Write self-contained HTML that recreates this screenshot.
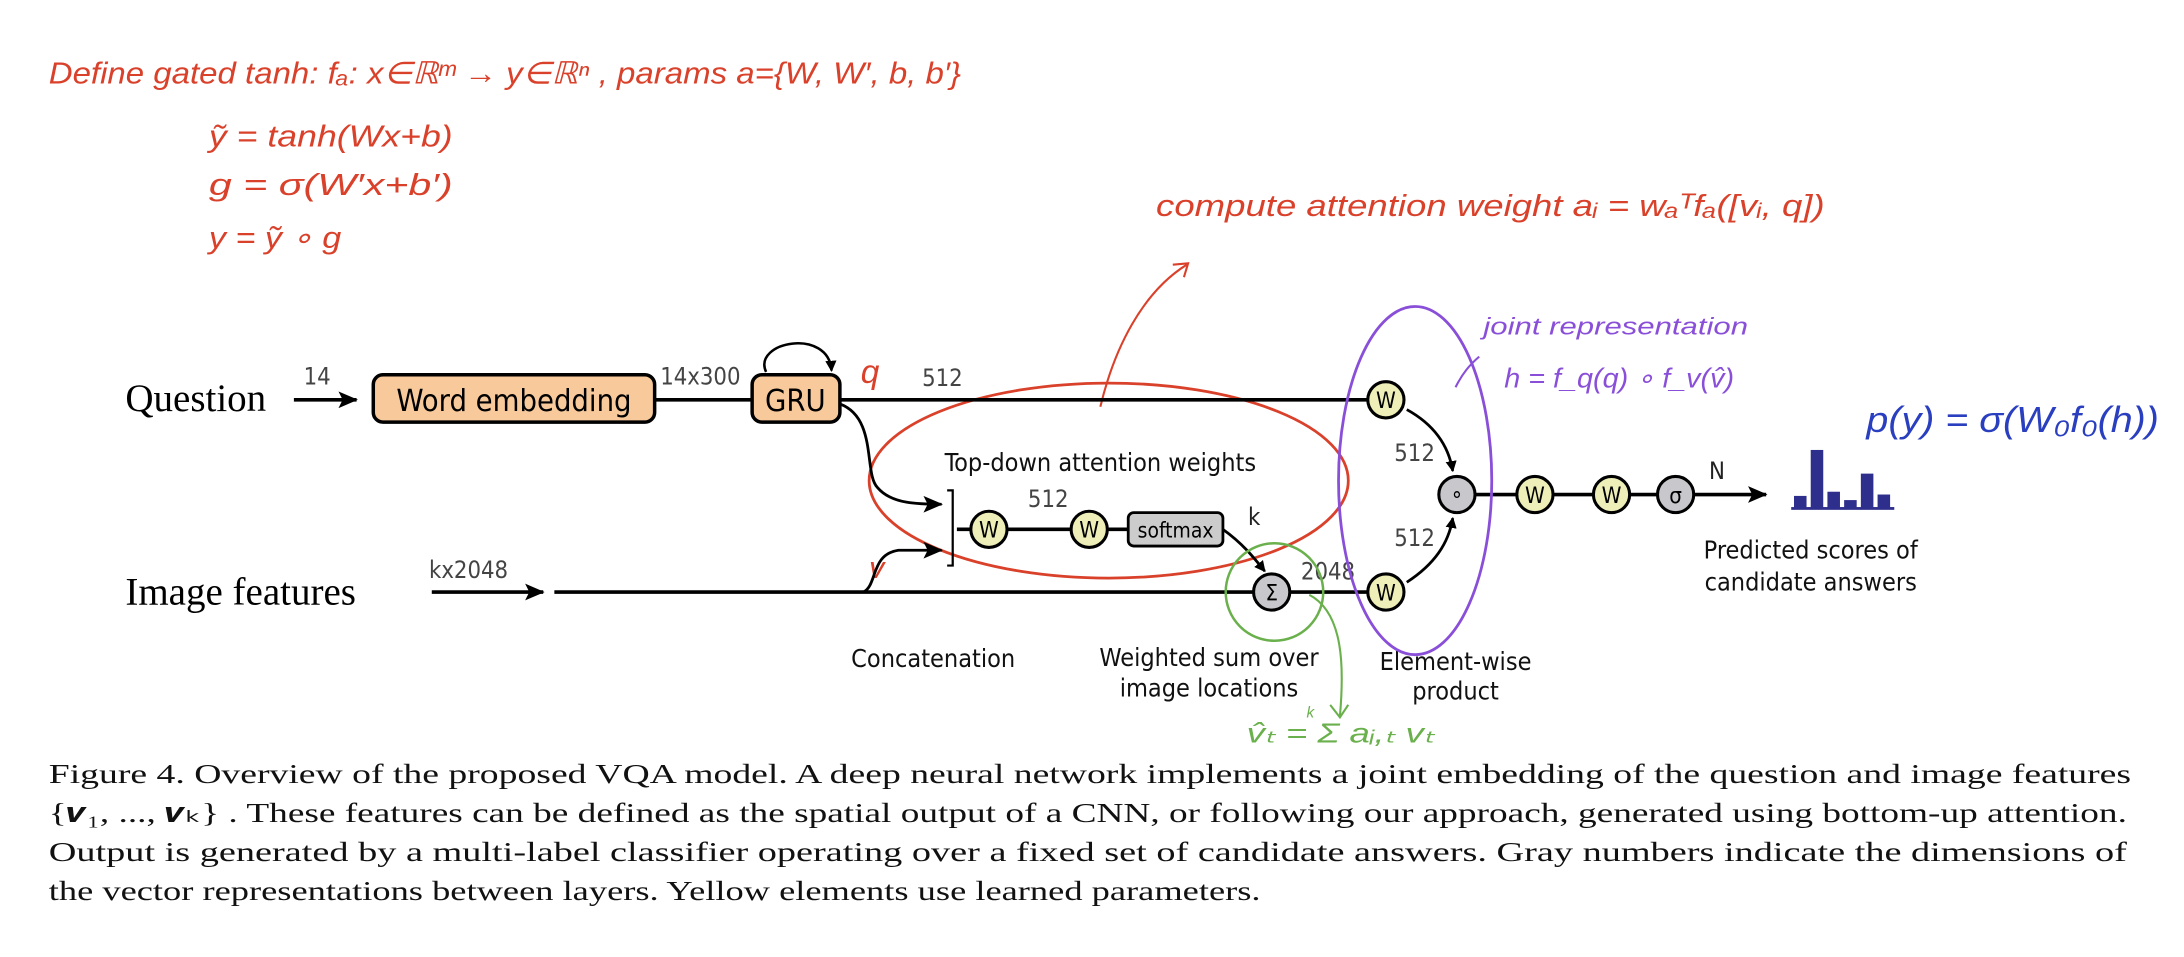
<!DOCTYPE html>
<html><head><meta charset="utf-8"><style>
html,body{margin:0;padding:0;background:#fff;}
svg{display:block;}
.s{font-family:"DejaVu Sans Condensed","Liberation Sans",sans-serif;}
.r{font-family:"Liberation Serif",serif;}
.h{font-family:"Liberation Sans",sans-serif;font-style:italic;}
</style></head><body>
<svg width="2184" height="957" viewBox="0 0 1568 687" xmlns="http://www.w3.org/2000/svg">
<defs>
<marker id="a" markerWidth="8" markerHeight="8" refX="7" refY="4" orient="auto" markerUnits="userSpaceOnUse"><path d="M0,0 L8,4 L0,8 Z" fill="#000"/></marker>
<marker id="ab" markerWidth="14" markerHeight="12" refX="13" refY="6" orient="auto" markerUnits="userSpaceOnUse"><path d="M0,0 L14,6 L0,12 L3,6 Z" fill="#000"/></marker>
</defs>
<g fill="#d9412b" class="h">
<text x="35" y="60" font-size="22" textLength="655" lengthAdjust="spacingAndGlyphs">Define gated tanh: fₐ: x∈ℝᵐ → y∈ℝⁿ , params a={W, W′, b, b′}</text>
<text x="150" y="105" font-size="22" textLength="175" lengthAdjust="spacingAndGlyphs">ỹ = tanh(Wx+b)</text>
<text x="150" y="140" font-size="22" textLength="175" lengthAdjust="spacingAndGlyphs">g = σ(W′x+b′)</text>
<text x="150" y="178" font-size="22" textLength="95" lengthAdjust="spacingAndGlyphs">y = ỹ ∘ g</text>
<text x="830" y="155" font-size="22" textLength="480" lengthAdjust="spacingAndGlyphs">compute attention weight  aᵢ = wₐᵀfₐ([vᵢ, q])</text>
<text x="618" y="275" font-size="24">q</text>
<text x="624" y="415" font-size="22">v</text>
</g>
<path d="M790,292 C800,250 820,210 852,190" stroke="#d9412b" stroke-width="1.5" fill="none"/>
<path d="M842,190 L853,189 L850,199" stroke="#d9412b" stroke-width="1.5" fill="none"/>
<ellipse cx="796" cy="345" rx="172" ry="70" fill="none" stroke="#d9412b" stroke-width="2"/>
<g stroke="#000" stroke-width="2.6" fill="none">
<line x1="211" y1="287" x2="256" y2="287" marker-end="url(#ab)"/>
<line x1="470" y1="287" x2="540" y2="287"/>
<line x1="603" y1="287" x2="983" y2="287"/>
<path d="M550,267 C540,245 595,235 597,266" stroke-width="1.8" marker-end="url(#a)"/>
<path d="M603,290 C630,300 620,340 630,350 C640,362 660,362 676,362" stroke-width="2" marker-end="url(#ab)"/>
<line x1="310" y1="425" x2="390" y2="425" marker-end="url(#ab)"/>
<line x1="398" y1="425" x2="983" y2="425"/>
<path d="M620,425 C630,420 625,398 645,395 L676,395" stroke-width="2" marker-end="url(#ab)"/>
<path d="M680,352 L684,352 L684,406 L680,406" stroke-width="1.6"/>
<line x1="687" y1="380" x2="810" y2="380"/>
<path d="M878,380 C892,390 900,400 908,410" stroke-width="2" marker-end="url(#a)"/>
<path d="M1010,294 C1030,305 1040,320 1043,338" stroke-width="2" marker-end="url(#a)"/>
<path d="M1010,418 C1030,405 1040,390 1043,372" stroke-width="2" marker-end="url(#a)"/>
<line x1="1058" y1="355" x2="1268" y2="355" marker-end="url(#ab)"/>
</g>
<rect x="268" y="269" width="202" height="34" rx="7" fill="#f7c99b" stroke="#000" stroke-width="2.5"/>
<text x="369" y="295" class="s" font-size="22" text-anchor="middle">Word embedding</text>
<rect x="540" y="269" width="63" height="34" rx="7" fill="#f7c99b" stroke="#000" stroke-width="2.5"/>
<text x="571" y="295" class="s" font-size="22" text-anchor="middle">GRU</text>
<rect x="810" y="368" width="68" height="24" rx="4" fill="#ccc" stroke="#000" stroke-width="2"/>
<text x="844" y="386" class="s" font-size="15" text-anchor="middle">softmax</text>
<g stroke="#000" stroke-width="2.2" class="s" font-size="16" text-anchor="middle">
<circle cx="710" cy="380" r="13" fill="#eeeeb8"/><text x="710" y="386" stroke="none">W</text>
<circle cx="782" cy="380" r="13" fill="#eeeeb8"/><text x="782" y="386" stroke="none">W</text>
<circle cx="913" cy="425" r="13" fill="#c8c8cc"/><text x="913" y="431" stroke="none">Σ</text>
<circle cx="995" cy="287" r="13" fill="#eeeeb8"/><text x="995" y="293" stroke="none">W</text>
<circle cx="995" cy="425" r="13" fill="#eeeeb8"/><text x="995" y="431" stroke="none">W</text>
<circle cx="1046" cy="355" r="13" fill="#c8c8cc"/><text x="1046" y="360" stroke="none">∘</text>
<circle cx="1102" cy="355" r="13" fill="#eeeeb8"/><text x="1102" y="361" stroke="none">W</text>
<circle cx="1157" cy="355" r="13" fill="#eeeeb8"/><text x="1157" y="361" stroke="none">W</text>
<circle cx="1203" cy="355" r="13" fill="#c8c8cc"/><text x="1203" y="361" stroke="none">σ</text>
</g>
<text x="90" y="295" class="r" font-size="28">Question</text>
<text x="90" y="434" class="r" font-size="28">Image features</text>
<g class="s" font-size="17" fill="#444">
<text x="218" y="276">14</text>
<text x="474" y="276">14x300</text>
<text x="662" y="277">512</text>
<text x="308" y="415">kx2048</text>
<text x="738" y="364">512</text>
<text x="896" y="377" fill="#222">k</text>
<text x="934" y="416">2048</text>
<text x="1001" y="331">512</text>
<text x="1001" y="392">512</text>
<text x="1227" y="344" fill="#222">N</text>
</g>
<g class="s" font-size="18" fill="#111" text-anchor="middle">
<text x="790" y="338">Top-down attention weights</text>
<text x="670" y="479">Concatenation</text>
<text x="868" y="478">Weighted sum over</text>
<text x="868" y="500">image locations</text>
<text x="1045" y="481">Element-wise</text>
<text x="1045" y="502">product</text>
<text x="1300" y="401">Predicted scores of</text>
<text x="1300" y="424">candidate answers</text>
</g>
<g fill="#2e2e8c">
<rect x="1288" y="356" width="9" height="9"/><rect x="1300" y="323" width="9" height="42"/><rect x="1312" y="353" width="9" height="12"/><rect x="1324" y="359" width="9" height="6"/><rect x="1336" y="340" width="9" height="25"/><rect x="1348" y="355" width="9" height="10"/>
<rect x="1286" y="364" width="74" height="2"/>
</g>
<circle cx="915" cy="425" r="35" fill="none" stroke="#6ab04c" stroke-width="1.8"/>
<path d="M940,427 C965,440 965,480 962,514" stroke="#6ab04c" stroke-width="1.5" fill="none"/>
<path d="M955,506 L962,515 L968,506" stroke="#6ab04c" stroke-width="1.5" fill="none"/>
<text x="895" y="533" class="h" font-size="20" fill="#6ab04c" textLength="135" lengthAdjust="spacingAndGlyphs">v̂ₜ = Σ aᵢ,ₜ vₜ</text>
<text x="938" y="515" class="h" font-size="11" fill="#6ab04c">k</text>
<ellipse cx="1016" cy="345" rx="55" ry="125" fill="none" stroke="#8a4fd8" stroke-width="2"/>
<path d="M1045,278 C1050,268 1055,262 1062,256" stroke="#8a4fd8" stroke-width="1.5" fill="none"/>
<text x="1065" y="240" class="h" font-size="17" fill="#8a4fd8" textLength="190" lengthAdjust="spacingAndGlyphs">joint representation</text>
<text x="1080" y="278" class="h" font-size="20" fill="#8a4fd8" textLength="165" lengthAdjust="spacingAndGlyphs">h = f_q(q) ∘ f_v(v̂)</text>
<text x="1340" y="310" class="h" font-size="26" fill="#2a3fc0" textLength="210" lengthAdjust="spacingAndGlyphs">p(y) = σ(W₀f₀(h))</text>
<g class="r" font-size="20" fill="#111">
<text x="35" y="562" textLength="1495" lengthAdjust="spacingAndGlyphs">Figure 4. Overview of the proposed VQA model. A deep neural network implements a joint embedding of the question and image features</text>
<text x="35" y="590" textLength="1492" lengthAdjust="spacingAndGlyphs">{𝒗₁, ..., 𝒗ₖ} . These features can be defined as the spatial output of a CNN, or following our approach, generated using bottom-up attention.</text>
<text x="35" y="618" textLength="1492" lengthAdjust="spacingAndGlyphs">Output is generated by a multi-label classifier operating over a fixed set of candidate answers. Gray numbers indicate the dimensions of</text>
<text x="35" y="646" textLength="870" lengthAdjust="spacingAndGlyphs">the vector representations between layers. Yellow elements use learned parameters.</text>
</g>
</svg>
</body></html>
